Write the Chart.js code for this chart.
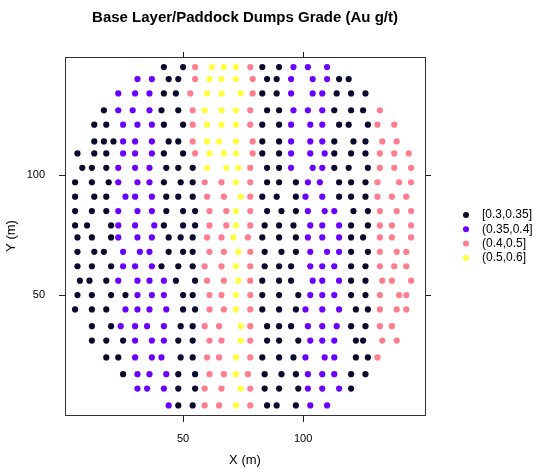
<!DOCTYPE html>
<html><head><meta charset="utf-8">
<script src="https://cdn.jsdelivr.net/npm/chart.js@4/dist/chart.umd.min.js"></script>
<style>body{margin:0;background:#fff}</style></head>
<body><canvas id="c" width="550" height="472"></canvas>
<script>
const rowY = [145,140,134,127,121,114,109,103,97,91,85,79,74,68,62,56,50,44,37,31,24,17,11,4];
const blackX = [
 [42,50,83,90],[44,48,85,89,115,119],[42,47,83,89,114,120,126],[17,41,48,85,90,113,120,125],
 [13,18,42,50,83,90,115,119,127],[13,17,21,44,48,83,90,113,121,126],[6,13,18,42,50,83,90,113,120,126],
 [8,12,18,43,48,54,85,90,113,119,127],[5,12,19,42,49,54,85,90,97,115,120,126],[5,13,18,43,48,54,83,89,97,115,120,126],
 [5,12,18,43,50,55,85,91,97,121,127],[5,10,20,42,50,55,84,90,96,120,127],[6,12,20,44,49,54,83,90,97,120,125],
 [6,13,17,44,50,54,84,91,97,120,127],[6,12,20,41,48,54,84,90,95,120,126],[7,11,18,47,55,83,90,95,120,126],
 [6,12,20,26,50,54,83,90,98,120,126],[5,12,18,50,55,83,90,97,122,127],[12,20,49,54,85,90,95,120,126],
 [12,18,25,48,54,85,90,98,122,125],[18,23,49,54,83,90,96,122,127],[25,48,55,84,91,97,120,126],
 [48,55,84,90,98,120],[48,54,85,89,97]];
const purpleX = [
 [96,102,110],[31,37,95,104,110],[23,30,36,95,104,108],[23,29,36,96,102,108],
 [25,31,37,95,103,108],[25,30,37,95,103,108],[25,30,37,95,103,109],
 [23,30,36,95,104,108],[23,31,36,102,107],[26,30,37,101,108],
 [23,31,37,102,109,113],[23,30,38,103,108,115],[23,31,37,102,108,115],
 [25,32,36,103,110,115],[25,30,37,103,108,113],[23,31,36,42,104,108,115],
 [31,37,42,103,108,113],[26,31,36,43,101,108,115],[24,30,35,42,102,108,114],
 [30,37,42,103,108,113],[30,37,41,101,109,113],[31,36,43,102,108,113],
 [31,35,42,102,108,115],[44,103,110]];
const pinkX = [
 [55,78],[55,79],[53,79],[54,78,132],[54,78,131,138],[54,79,133,139],[55,79,132,138,144],
 [78,132,138,145],[59,66,78,131,140,145],[60,67,78,131,137,143],[61,68,78,132,139,145],
 [61,68,78,132,137,145],[60,66,77,132,137,145],[61,67,78,132,139,143],[59,66,78,132,138,143],
 [60,67,78,133,137,145],[61,66,78,132,140,143],[61,67,78,132,139,143],[59,65,78,132,137],
 [61,66,78,133,139],[60,65,78,131],[61,67,77],[59,66,78],[59,65,78]];
const yellowX = [
 [62,67,72],[61,66,72],[60,66,74],[59,66,72],[60,66,72],[60,65,72],[61,67,72],
 [60,68,73],[72],[74],[72],[72],[71],[73],[72],[73],[72],[72],[74],[74],[72],[72],[74],[72]];
const labels = ['[0.3,0.35]','(0.35,0.4]','(0.4,0.5]','(0.5,0.6]'];
const colors = ['#0a0a2e','#6a00ff','#ff7d8e','#ffff40'];
const xTicks = [50,100], yTicks = [50,100];

function pts(arr){const o=[];arr.forEach((r,i)=>r.forEach(x=>o.push({x:x,y:rowY[i]})));return o;}
const series=[blackX,purpleX,pinkX,yellowX];
const FONT='"Liberation Sans", Arial, sans-serif';
const deco={id:'deco',afterDraw(ch){
 const c=ch.ctx,a=ch.chartArea,sx=ch.scales.x,sy=ch.scales.y;
 c.save();c.strokeStyle='#333';c.lineWidth=1;
 const L=Math.round(a.left),R=Math.round(a.right),T=Math.round(a.top),B=Math.round(a.bottom);
 c.strokeRect(L+0.5,T+0.5,R-L,B-T);
 c.fillStyle='#222';
 xTicks.forEach(v=>{const p=Math.round(sx.getPixelForValue(v));c.fillRect(p,T-5,1,5);c.fillRect(p,B,1,7);});
 yTicks.forEach(v=>{const p=Math.round(sy.getPixelForValue(v));c.fillRect(R+1,p,5,1);c.fillRect(L-6,p,7,1);});
 c.fillStyle='#000';c.font='bold 15px '+FONT;c.textAlign='center';c.textBaseline='middle';
 c.fillText('Base Layer/Paddock Dumps Grade (Au g/t)',245,18);
 c.font='12px '+FONT;c.textAlign='left';
 labels.forEach((l,i)=>{const y=215+i*14.3;c.fillStyle=colors[i];c.beginPath();c.arc(466,y,3,0,Math.PI*2);c.fill();c.fillStyle='#000';c.fillText(l,482,y);});
 c.restore();}};
new Chart(document.getElementById('c'),{type:'scatter',
 data:{datasets:series.map((s,i)=>({label:labels[i],data:pts(s),backgroundColor:colors[i],borderColor:colors[i],borderWidth:0,pointRadius:3.1,pointHoverRadius:3.1}))},
 options:{responsive:false,animation:false,events:[],
  layout:{padding:{left:0,right:125,top:57,bottom:0}},
  plugins:{legend:{display:false},tooltip:{enabled:false}},
  scales:{
   x:{type:'linear',min:0.8,max:150.8,afterBuildTicks:s=>{s.ticks=xTicks.map(v=>({value:v}));},afterFit:s=>{s.height=57;},
     grid:{display:false},border:{display:false},
     ticks:{color:'#000',font:{size:11,family:FONT},padding:9},
     title:{display:true,text:'X (m)',color:'#000',font:{size:13,family:FONT},padding:{top:4}}},
   y:{type:'linear',min:0,max:149.2,afterBuildTicks:s=>{s.ticks=yTicks.map(v=>({value:v}));},afterFit:s=>{s.width=65;},
     grid:{display:false},border:{display:false},
     ticks:{color:'#000',font:{size:11,family:FONT},padding:12},
     title:{display:true,text:'Y (m)',color:'#000',font:{size:13,family:FONT},padding:{bottom:4}}}}},
 plugins:[deco]});
</script></body></html>
